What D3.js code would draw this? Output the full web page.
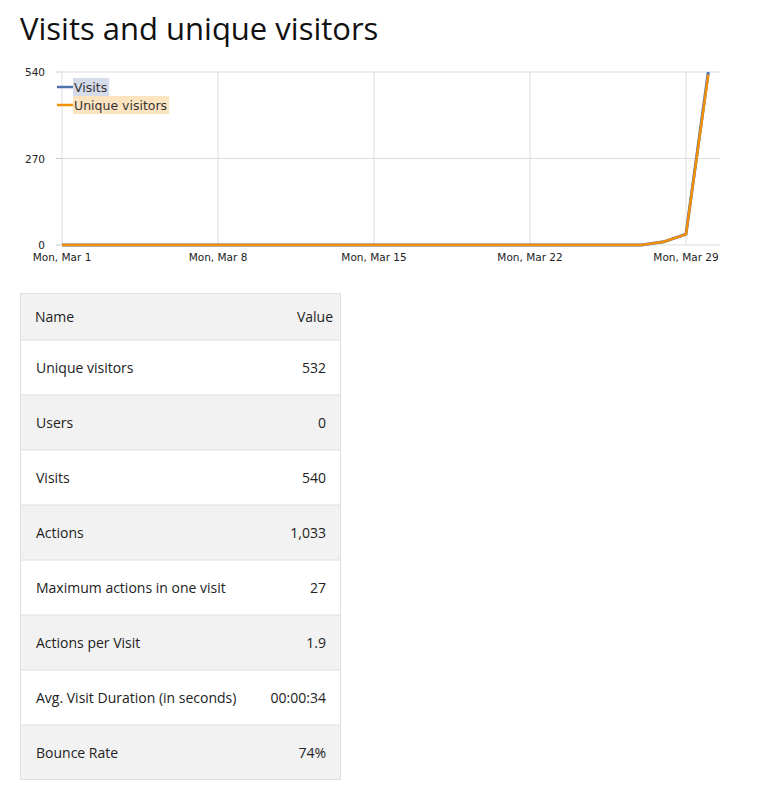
<!DOCTYPE html>
<html><head><meta charset="utf-8">
<script src="https://cdn.jsdelivr.net/npm/d3@7"></script>
<style>body{margin:0;background:#fff;font-family:"Open Sans","Noto Sans",sans-serif;}</style>
</head><body><svg id="c" width="784" height="792"></svg>
<script>
const days = d3.range(1, 31);
const visits = [0,0,0,0,0,0,0,0,0,0,0,0,0,0,0,0,0,0,0,0,0,0,0,0,0,0,0,10,34,540];
const uniques = [0,0,0,0,0,0,0,0,0,0,0,0,0,0,0,0,0,0,0,0,0,0,0,0,0,0,0,10,33,532];
const xTickDays = [1,8,15,22,29];
const xTickLabels = ["Mon, Mar 1","Mon, Mar 8","Mon, Mar 15","Mon, Mar 22","Mon, Mar 29"];
const yTicks = [0,270,540];
const seriesNames = ["Visits","Unique visitors"];
const seriesColors = ["#5170ae","#f29007"];
const legendBg = ["#d5dbe9","#fde4c1"];
const tableNames = ["Unique visitors","Users","Visits","Actions","Maximum actions in one visit","Actions per Visit","Avg. Visit Duration (in seconds)","Bounce Rate"];
const tableValues = ["532","0","540","1,033","27","1.9","00:00:34","74%"];

const svg = d3.select("#c");
svg.append("text").attr("x",20).attr("y",40).attr("font-size",31).attr("fill","#111").text("Visits and unique visitors");

const x = d3.scaleLinear().domain([1,29]).range([62,686]);
const y = d3.scaleLinear().domain([0,540]).range([245,72]);
const g = svg.append("g");
g.selectAll(".gy").data(yTicks).join("line").attr("x1",62).attr("x2",720).attr("y1",d=>y(d)).attr("y2",d=>y(d)).attr("stroke","#ddd");
g.selectAll(".gx").data(xTickDays).join("line").attr("x1",d=>x(d)).attr("x2",d=>x(d)).attr("y1",72).attr("y2",245).attr("stroke","#ddd");
g.selectAll(".yt").data(yTicks).join("line").attr("x1",56).attr("x2",62).attr("y1",d=>y(d)).attr("y2",d=>y(d)).attr("stroke","#ccc");
g.selectAll(".yl").data(yTicks).join("text").attr("x",45).attr("y",d=>y(d)+4).attr("text-anchor","end").attr("font-family","DejaVu Sans, Verdana").attr("font-size",10.5).attr("fill","#222").text(d=>d);
g.selectAll(".xl").data(xTickDays).join("text").attr("x",d=>x(d)).attr("y",261).attr("text-anchor","middle").attr("font-family","DejaVu Sans, Verdana").attr("font-size",10.5).attr("fill","#222").text((d,i)=>xTickLabels[i]);

const line = d3.line().x((d,i)=>x(days[i])).y(d=>y(d));
[visits,uniques].forEach((s,k)=>{
  g.append("path").datum(s).attr("d",line).attr("fill","none").attr("stroke",seriesColors[k]).attr("stroke-width",k?2.5:3);
});
seriesNames.forEach((n,k)=>{
  const yy = 87 + k*18;
  const t = g.append("text").attr("x",74).attr("y",yy+5).attr("font-family","DejaVu Sans, Verdana").attr("font-size",12.5).attr("fill","#333").text(n);
  const bb = t.node().getBBox();
  g.insert("rect","text").attr("x",bb.x-1).attr("y",yy-9).attr("width",bb.width+3).attr("height",18).attr("fill",legendBg[k]);
  g.append("line").attr("x1",57).attr("x2",73).attr("y1",yy).attr("y2",yy).attr("stroke",seriesColors[k]).attr("stroke-width",2.5);
  t.raise();
});

const tg = svg.append("g");
const tx0=20, tw=321, hy=293, hh=47, rh=55;
tg.append("rect").attr("x",tx0).attr("y",hy).attr("width",tw).attr("height",hh).attr("fill","#f2f2f2");
tg.append("text").attr("x",35).attr("y",hy+29).attr("font-size",14).attr("fill","#222").text("Name");
tg.append("text").attr("x",333).attr("y",hy+29).attr("text-anchor","end").attr("font-size",14).attr("fill","#222").text("Value");
tableNames.forEach((n,i)=>{
  const ry = hy+hh+i*rh;
  tg.append("rect").attr("x",tx0).attr("y",ry).attr("width",tw).attr("height",rh).attr("fill",i%2?"#f2f2f2":"#fff");
  tg.append("line").attr("x1",tx0).attr("x2",tx0+tw).attr("y1",ry).attr("y2",ry).attr("stroke","#e0e0e0");
  tg.append("text").attr("x",36).attr("y",ry+33).attr("font-size",14).attr("fill","#222").text(n);
  tg.append("text").attr("x",326).attr("y",ry+33).attr("text-anchor","end").attr("font-size",14).attr("fill","#222").text(tableValues[i]);
});
tg.append("rect").attr("x",tx0+0.5).attr("y",hy+0.5).attr("width",tw-1).attr("height",hh+8*rh-1).attr("fill","none").attr("stroke","#e0e0e0");
</script></body></html>
